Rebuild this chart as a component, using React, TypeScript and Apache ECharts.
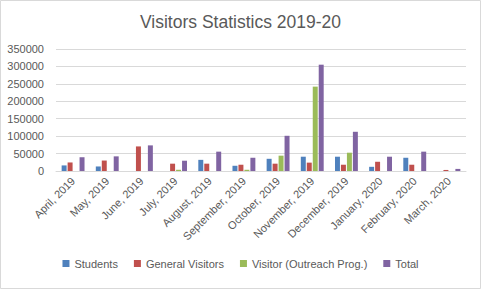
import React, { useEffect, useRef } from "react";
import * as echarts from "echarts";

const categories = [
  "April, 2019", "May, 2019", "June, 2019", "July, 2019", "August, 2019", "September, 2019",
  "October, 2019", "November, 2019", "December, 2019", "January, 2020", "February, 2020", "March, 2020",
];
const students = [16000, 13000, 0, 0, 32000, 15000, 35000, 41000, 41000, 12000, 38000, 0];
const generalVisitors = [24500, 30000, 70500, 21000, 21000, 18000, 21000, 24000, 18000, 26500, 18000, 3000];
const outreach = [0, 0, 0, 3500, 0, 3500, 44000, 242000, 52500, 0, 0, 0];
const total = [39500, 42000, 73500, 29500, 55500, 38000, 101000, 305000, 112500, 41000, 55500, 6000];
const seriesNames = ["Students", "General Visitors", "Visitor (Outreach Prog.)", "Total"];
const colors = ["#4F81BD", "#C0504D", "#9BBB59", "#8064A2"];

export default function App() {
  const ref = useRef<HTMLDivElement>(null);
  useEffect(() => {
    document.body.style.margin = "0";
    const chart = echarts.init(ref.current!, undefined, { renderer: "svg" });
    const font = "Liberation Sans";
    const dataSets = [students, generalVisitors, outreach, total];
    chart.setOption({
      animation: false,
      backgroundColor: "#ffffff",
      color: colors,
      textStyle: { fontFamily: font },
      title: {
        text: "Visitors Statistics 2019-20",
        left: "center",
        top: 8,
        textStyle: { fontFamily: font, fontSize: 17.5, fontWeight: "normal", color: "#595959" },
      },
      legend: {
        bottom: 15,
        left: "center",
        itemWidth: 7,
        itemHeight: 7,
        itemGap: 16,
        icon: "rect",
        textStyle: { fontFamily: font, fontSize: 11, color: "#595959" },
        data: seriesNames,
      },
      grid: { left: 56, right: 15, top: 49, bottom: 118, containLabel: false },
      xAxis: {
        type: "category",
        data: categories,
        axisLine: { lineStyle: { color: "#D9D9D9" } },
        axisTick: { show: false },
        axisLabel: { interval: 0, rotate: 45, fontSize: 11, color: "#595959", margin: 8, fontFamily: font },
      },
      yAxis: {
        type: "value",
        min: 0,
        max: 350000,
        interval: 50000,
        axisLine: { show: false },
        axisTick: { show: false },
        axisLabel: {
          fontSize: 11,
          color: "#595959",
          margin: 12,
          fontFamily: font,
          formatter: (v: number) => String(v),
        },
        splitLine: { lineStyle: { color: "#D9D9D9" } },
      },
      graphic: [
        {
          type: "rect",
          shape: { x: 0.5, y: 0.5, width: 480, height: 288 },
          style: { fill: "none", stroke: "#D9D9D9", lineWidth: 1 },
          silent: true,
        },
      ],
      series: seriesNames.map((name, i) => ({
        name,
        type: "bar",
        data: dataSets[i],
        barGap: "20%",
        barCategoryGap: "33%",
        itemStyle: { color: colors[i] },
      })),
    });
    return () => chart.dispose();
  }, []);
  return <div ref={ref} style={{ width: 481, height: 289 }} />;
}
